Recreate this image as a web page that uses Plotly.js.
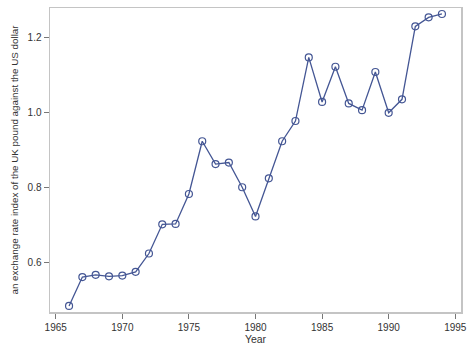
<!DOCTYPE html>
<html>
<head>
<meta charset="utf-8">
<script src="https://cdn.plot.ly/plotly-3.0.1.min.js"></script>
<style>html,body{margin:0;padding:0;background:#fff;}#chart{width:474px;height:355px;}</style>
</head>
<body>
<div id="chart"></div>
<script>
const years = [1966,1967,1968,1969,1970,1971,1972,1973,1974,1975,1976,1977,1978,1979,1980,1981,1982,1983,1984,1985,1986,1987,1988,1989,1990,1991,1992,1993,1994];
const rateIndex = [0.484,0.561,0.567,0.563,0.565,0.575,0.624,0.702,0.703,0.783,0.924,0.863,0.867,0.801,0.723,0.825,0.924,0.978,1.148,1.029,1.123,1.025,1.007,1.109,1.000,1.036,1.231,1.255,1.264];
const xTicks = [1965,1970,1975,1980,1985,1990,1995];
const yTicks = [0.6,0.8,1.0,1.2];
const yTickLabels = ['0.6','0.8','1.0','1.2'];

const lineColor = '#445694';
const trace = {
  x: years, y: rateIndex, type: 'scatter', mode: 'lines+markers',
  line: {color: lineColor, width: 1.3},
  marker: {symbol: 'circle-open', size: 7, color: lineColor, line: {width: 1.2, color: lineColor}},
  hoverinfo: 'x+y'
};
const font = {family: 'Arial, "Liberation Sans", sans-serif', size: 10, color: '#333'};
const layout = {
  width: 474, height: 355,
  margin: {l: 50, r: 13, t: 8, b: 43},
  paper_bgcolor: '#fff', plot_bgcolor: '#fff',
  font: font,
  showlegend: false,
  xaxis: {
    range: [1964.57, 1995.43], tickvals: xTicks, ticktext: xTicks.map(String),
    ticks: 'outside', ticklen: 5, tickcolor: '#777', tickwidth: 1,
    showgrid: false, zeroline: false,
    showline: true, linecolor: '#c4c4c4', linewidth: 1.5, mirror: true,
    tickfont: {size: 10, color: '#333'},
    title: {text: 'Year', font: {size: 10.5, color: '#333'}, standoff: 4}
  },
  yaxis: {
    range: [0.4677, 1.280], tickvals: yTicks, ticktext: yTickLabels,
    ticks: 'outside', ticklen: 5, tickcolor: '#777', tickwidth: 1,
    showgrid: false, zeroline: false,
    showline: true, linecolor: '#c4c4c4', linewidth: 1.5, mirror: true,
    tickfont: {size: 10, color: '#333'},
    title: {text: 'an exchange rate index of the UK pound against the US dollar', font: {size: 9.8, color: '#333'}, standoff: 7}
  }
};
Plotly.newPlot('chart', [trace], layout, {displayModeBar: false, staticPlot: true});
</script>
</body>
</html>
